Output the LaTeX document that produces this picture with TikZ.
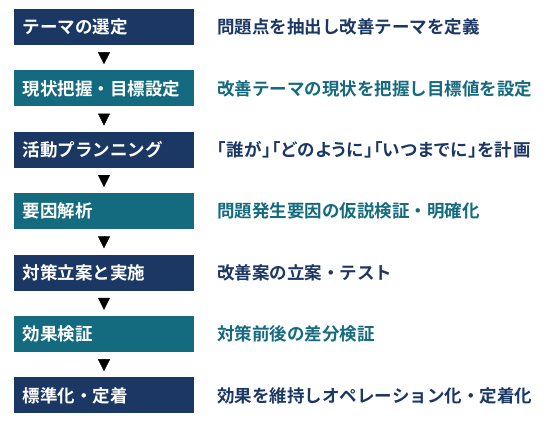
\documentclass[tikz,border=0pt]{standalone}
\usepackage{fontspec}
\setmainfont{Noto Sans CJK JP}[BoldFont={Noto Sans CJK JP Bold}]
\usepackage{xcolor}
\usepackage{tikz}
\usetikzlibrary{positioning,arrows.meta}
\definecolor{KaizenNavy}{HTML}{1B3763}
\definecolor{KaizenTeal}{HTML}{146A7E}
\newcommand{\jptext}{\fontsize{17.5}{20}\selectfont\bfseries}

\begin{document}
\begin{tikzpicture}[x=1pt, y=1pt, node distance=25pt, every node/.style={font=\jptext},
    stagebox/.style={fill=#1, text=white, minimum width=180pt, minimum height=36pt, text width=162pt, inner xsep=9pt, inner ysep=0pt, align=left},
    stagedesc/.style={text=#1, inner sep=0pt},
    flow/.style={-{Triangle[length=12pt,width=12pt]}, black, shorten <=7pt, shorten >=6pt}]
      \useasboundingbox (0,0) rectangle (560,-423);
      % Stages
      \node[stagebox=KaizenNavy] (theme) at (104,-27) {テーマの選定};
      \node[stagebox=KaizenTeal, below=of theme] (current) {現状把握・目標設定};
      \node[stagebox=KaizenNavy, below=of current] (planning) {活動プランニング};
      \node[stagebox=KaizenTeal, below=of planning] (cause) {要因解析};
      \node[stagebox=KaizenNavy, below=of cause] (measure) {対策立案と実施};
      \node[stagebox=KaizenTeal, below=of measure] (effect) {効果検証};
      \node[stagebox=KaizenNavy, below=of effect] (standard) {標準化・定着};
      % Descriptions
      \node[stagedesc=KaizenNavy, right=23pt of theme] (themeDesc) {問題点を抽出し改善テーマを定義};
      \node[stagedesc=KaizenTeal, right=23pt of current] (currentDesc) {改善テーマの現状を把握し目標値を設定};
      \node[stagedesc=KaizenNavy, right=23pt of planning] (planningDesc) {\addfontfeature{RawFeature=+palt, LetterSpace=3.3}「誰が」「どのように」「いつまでに」を計画};
      \node[stagedesc=KaizenTeal, right=23pt of cause] (causeDesc) {問題発生要因の仮説検証・明確化};
      \node[stagedesc=KaizenNavy, right=23pt of measure] (measureDesc) {改善案の立案・テスト};
      \node[stagedesc=KaizenTeal, right=23pt of effect] (effectDesc) {対策前後の差分検証};
      \node[stagedesc=KaizenNavy, right=23pt of standard] (standardDesc) {効果を維持しオペレーション化・定着化};
      % Arrows
      \draw[flow] (theme) -- (current);
      \draw[flow] (current) -- (planning);
      \draw[flow] (planning) -- (cause);
      \draw[flow] (cause) -- (measure);
      \draw[flow] (measure) -- (effect);
      \draw[flow] (effect) -- (standard);
\end{tikzpicture}
\end{document}
